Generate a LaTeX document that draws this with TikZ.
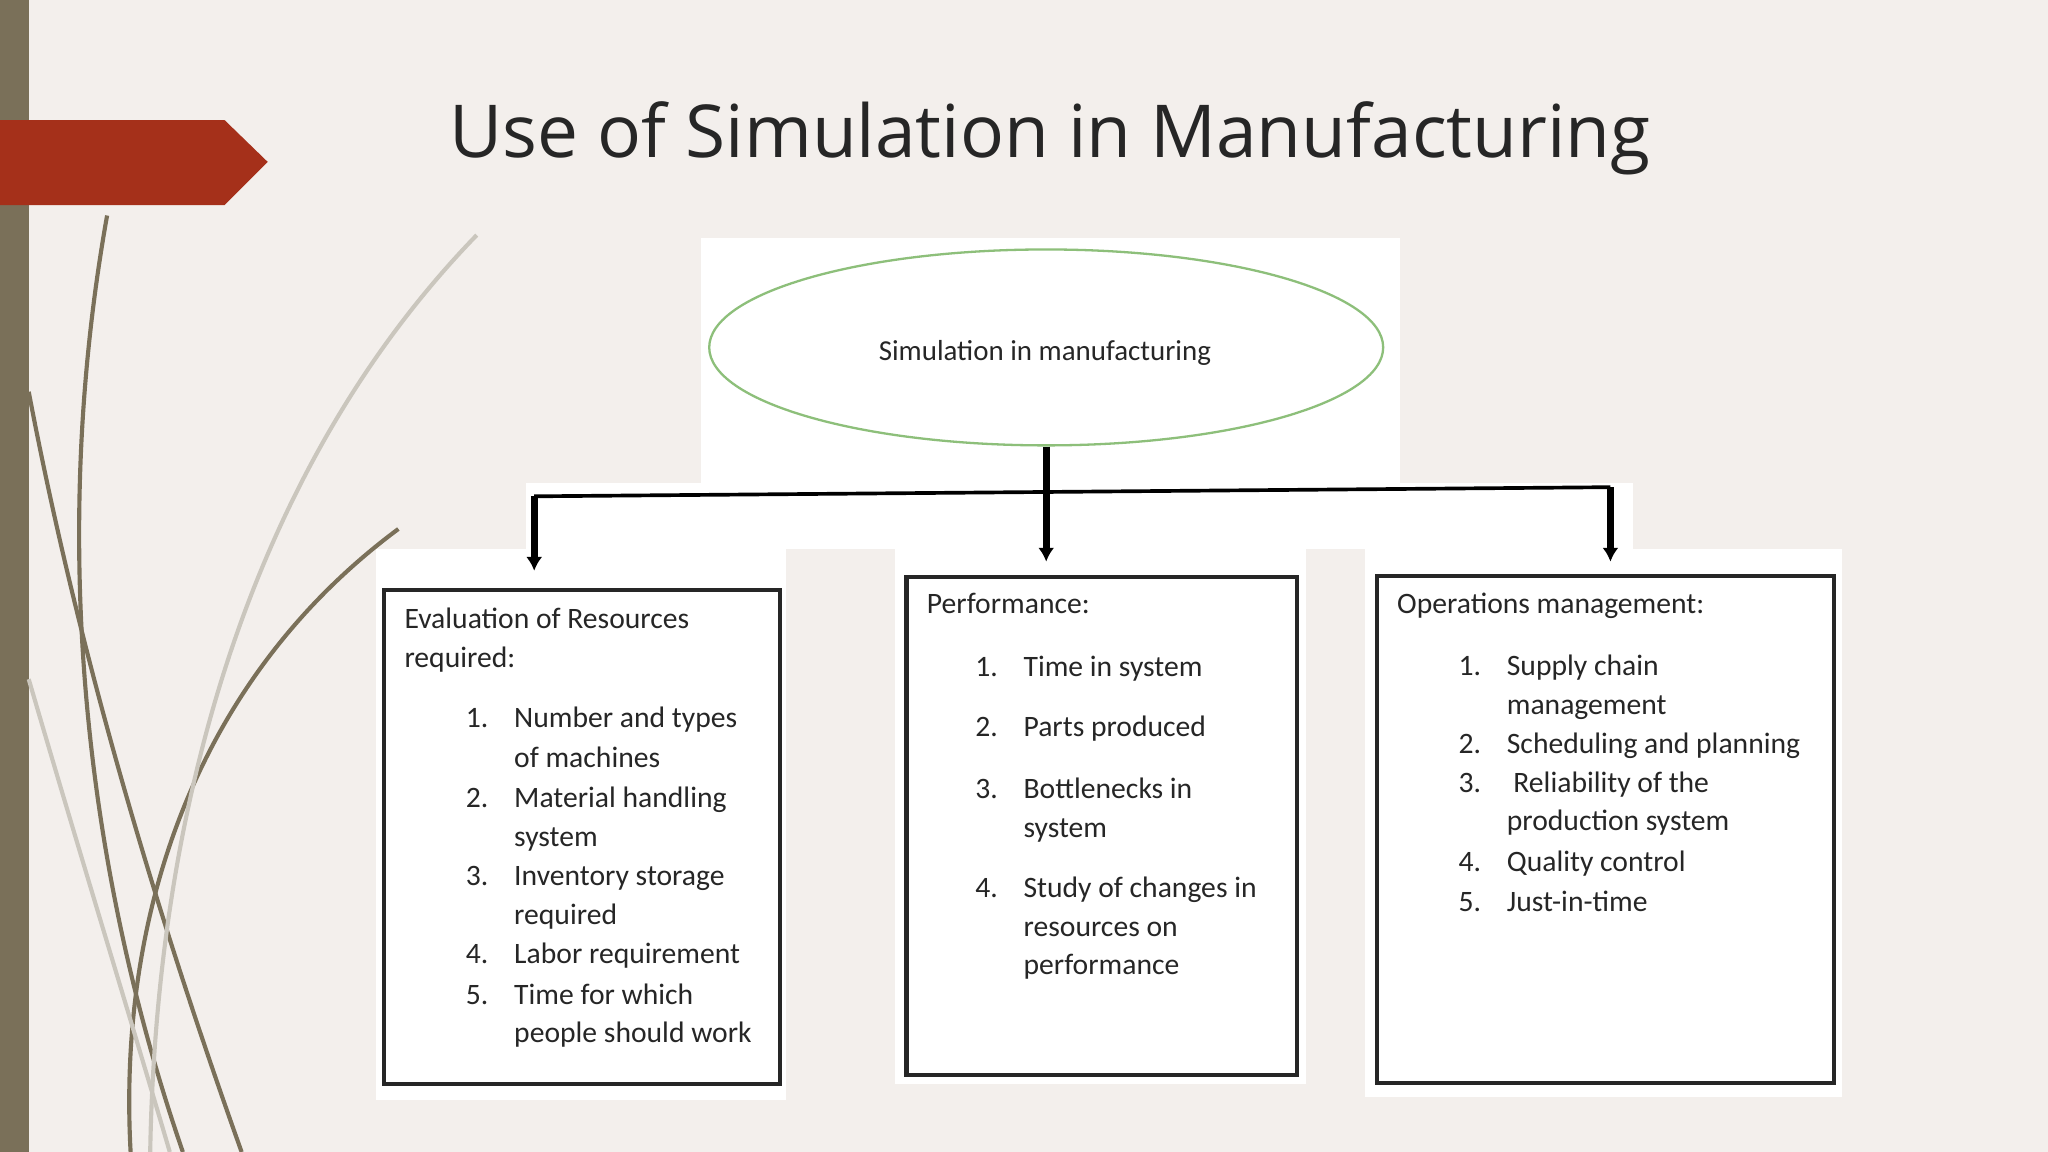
\documentclass[tikz,border=0pt]{standalone}
\usepackage{fontspec}
\setmainfont{Carlito}
\newfontfamily\titlefont{Open Sans}
\usetikzlibrary{arrows.meta}
\definecolor{bg}{HTML}{F3EFEC}
\definecolor{olive}{HTML}{7A7059}
\definecolor{redarr}{HTML}{A5301A}
\definecolor{ellg}{HTML}{8DBF7A}
\tikzset{
  txt/.style={anchor=base west,inner sep=0pt,font=\fontsize{6.45}{7.5}\selectfont,text=black!85},
  box/.style={draw=black!85,line width=0.9pt},
  panel/.style={fill=white,draw=none},
  deco/.style={draw=olive,line width=0.9pt},
  conn/.style={draw=black,line width=1.6pt},
  arr/.style={conn,-{Latex[length=3pt,width=3.5pt]}}
}
\begin{document}
\begin{tikzpicture}[x=0.01cm,y=-0.01cm]
\useasboundingbox (0,0) rectangle (1568,882);
\fill[bg] (0,0) rectangle (1568,882);
\fill[olive] (0,0) rectangle (22,882);
% decorative curves
\draw[deco] (82,165) .. controls (40,400) and (60,650) .. (140,882);
\draw[deco] (22,300) .. controls (60,500) and (120,700) .. (185,882);
\draw[deco] (305,405) .. controls (150,520) and (90,700) .. (100,882);
\draw[deco,draw=olive!40] (365,180) .. controls (200,350) and (120,600) .. (115,882);
\draw[deco,draw=olive!40] (22,520) .. controls (60,650) and (100,780) .. (130,882);
\fill[redarr] (0,92) -- (172,92) -- (205,124) -- (172,157) -- (0,157) -- cycle;
\node[font=\titlefont\fontsize{15.9}{19}\selectfont,text=black!85] (title) at (804,106) {Use of Simulation in Manufacturing};
% white panels
\fill[panel] (537,182) rectangle (1072,370);
\fill[panel] (403,370) rectangle (1250,420);
\fill[panel] (288,420) rectangle (602,842);
\fill[panel] (685,420) rectangle (1000,830);
\fill[panel] (1045,420) rectangle (1410,840);
% ellipse
\draw[ellg,line width=0.5pt] (801,266) ellipse [x radius=258,y radius=75];
\node[font=\fontsize{6.3}{7}\selectfont,text=black!85] (sim) at (800,270) {Simulation in manufacturing};
% connectors
\coordinate (e) at (801,342);
\coordinate (j) at (801,377);
\coordinate (l) at (409,380);
\coordinate (r) at (1233,373);
\coordinate (lb) at (409,437);
\coordinate (mb) at (801,430);
\coordinate (rb) at (1233,430);
\draw[conn] (e) -- (j);
\draw[draw=black,line width=0.8pt] (l) -- (r);
\draw[arr] (l) -- (lb);
\draw[arr] (j) -- (mb);
\draw[arr] (r) -- (rb);
% boxes
\draw[box] (294,452) rectangle (597,830);
\draw[box] (694,442) rectangle (993,823);
\draw[box] (1054,441) rectangle (1404,829);
% left text
\node[txt] (a0) at (309,481) {Evaluation of Resources};
\node[txt] (a1) at (309,511) {required:};
\node[txt] (a2) at (356,557) {1.};
\node[txt] (a3) at (393,557) {Number and types};
\node[txt] (a4) at (393,588) {of machines};
\node[txt] (a5) at (356,618) {2.};
\node[txt] (a6) at (393,618) {Material handling};
\node[txt] (a7) at (393,648) {system};
\node[txt] (a8) at (356,678) {3.};
\node[txt] (a9) at (393,678) {Inventory storage};
\node[txt] (a10) at (393,708) {required};
\node[txt] (a11) at (356,738) {4.};
\node[txt] (a12) at (393,738) {Labor requirement};
\node[txt] (a13) at (356,769) {5.};
\node[txt] (a14) at (393,769) {Time for which};
\node[txt] (a15) at (393,798) {people should work};
% middle text
\node[txt] (b0) at (709,470) {Performance:};
\node[txt] (b1) at (746,518) {1.};
\node[txt] (b2) at (783,518) {Time in system};
\node[txt] (b3) at (746,564) {2.};
\node[txt] (b4) at (783,564) {Parts produced};
\node[txt] (b5) at (746,611) {3.};
\node[txt] (b6) at (783,611) {Bottlenecks in};
\node[txt] (b7) at (783,641) {system};
\node[txt] (b8) at (746,687) {4.};
\node[txt] (b9) at (783,687) {Study of changes in};
\node[txt] (b10) at (783,717) {resources on};
\node[txt] (b11) at (783,746) {performance};
% right text
\node[txt] (c0) at (1069,470) {Operations management:};
\node[txt] (c1) at (1116,517) {1.};
\node[txt] (c2) at (1153,517) {Supply chain};
\node[txt] (c3) at (1153,547) {management};
\node[txt] (c4) at (1116,577) {2.};
\node[txt] (c5) at (1153,577) {Scheduling and planning};
\node[txt] (c6) at (1116,607) {3.};
\node[txt] (c7) at (1158,607) {Reliability of the};
\node[txt] (c8) at (1153,636) {production system};
\node[txt] (c9) at (1116,667) {4.};
\node[txt] (c10) at (1153,667) {Quality control};
\node[txt] (c11) at (1116,698) {5.};
\node[txt] (c12) at (1153,698) {Just-in-time};
\end{tikzpicture}
\end{document}
